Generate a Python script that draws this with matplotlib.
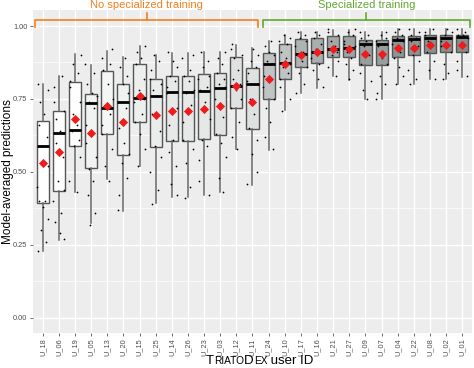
import numpy as np
import matplotlib
matplotlib.use("Agg")
import matplotlib.pyplot as plt
from matplotlib.offsetbox import TextArea, HPacker, AnchoredOffsetbox

plt.rcParams['font.family'] = ['Liberation Sans', 'DejaVu Sans']

# user IDs, ordered as in the figure
users = ["U_18", "U_06", "U_19", "U_05", "U_13", "U_20", "U_15", "U_25", "U_14",
         "U_26", "U_23", "U_03", "U_12", "U_11", "U_24", "U_10", "U_17", "U_16",
         "U_21", "U_27", "U_09", "U_07", "U_04", "U_22", "U_08", "U_02", "U_01"]
n_untrained = 14  # first 14 users: no specialized training

# box statistics
whislo = [0.23, 0.267, 0.433, 0.324, 0.475, 0.367, 0.52, 0.393, 0.415, 0.413, 0.42, 0.433, 0.578, 0.455,
          0.577, 0.712, 0.77, 0.787, 0.829, 0.815, 0.749, 0.749, 0.80, 0.80, 0.82, 0.82, 0.827]
q1 = [0.395, 0.436, 0.589, 0.514, 0.629, 0.558, 0.671, 0.587, 0.605, 0.605, 0.613, 0.627, 0.72, 0.646,
      0.749, 0.82, 0.861, 0.872, 0.895, 0.893, 0.866, 0.866, 0.895, 0.90, 0.909, 0.912, 0.912]
medians = [0.59, 0.633, 0.644, 0.735, 0.72, 0.741, 0.754, 0.76, 0.773, 0.773, 0.778, 0.789, 0.795, 0.80,
           0.87, 0.872, 0.903, 0.91, 0.921, 0.926, 0.938, 0.938, 0.952, 0.955, 0.958, 0.96, 0.964]
q3 = [0.676, 0.71, 0.807, 0.767, 0.847, 0.80, 0.87, 0.818, 0.83, 0.83, 0.834, 0.84, 0.893, 0.855,
      0.906, 0.938, 0.954, 0.958, 0.966, 0.966, 0.952, 0.952, 0.966, 0.966, 0.97, 0.97, 0.97]
whishi = [0.80, 0.83, 0.903, 0.866, 0.915, 0.893, 0.93, 0.90, 0.906, 0.906, 0.91, 0.912, 0.935, 0.924,
          0.95, 0.97, 0.978, 0.98, 0.988, 0.988, 0.98, 0.98, 0.99, 0.99, 0.99, 0.99, 0.99]
means = [0.53, 0.57, 0.68, 0.635, 0.727, 0.672, 0.76, 0.695, 0.71, 0.71, 0.715, 0.726, 0.796, 0.741,
         0.817, 0.87, 0.90, 0.91, 0.921, 0.92, 0.904, 0.904, 0.926, 0.926, 0.935, 0.935, 0.935]

# individual predictions (approximate)
points = [
    [0.23, 0.26, 0.30, 0.34, 0.38, 0.40, 0.40, 0.45, 0.52, 0.59, 0.62, 0.66, 0.70, 0.74, 0.78, 0.80],
    [0.27, 0.29, 0.33, 0.36, 0.40, 0.44, 0.47, 0.55, 0.60, 0.64, 0.68, 0.71, 0.74, 0.79, 0.83],
    [0.43, 0.47, 0.55, 0.59, 0.61, 0.64, 0.66, 0.70, 0.74, 0.79, 0.81, 0.84, 0.87, 0.90],
    [0.32, 0.36, 0.42, 0.47, 0.51, 0.55, 0.60, 0.66, 0.72, 0.74, 0.76, 0.77, 0.80, 0.84, 0.87],
    [0.47, 0.52, 0.58, 0.63, 0.66, 0.70, 0.72, 0.75, 0.80, 0.85, 0.87, 0.89, 0.92],
    [0.37, 0.42, 0.48, 0.53, 0.56, 0.60, 0.65, 0.72, 0.74, 0.77, 0.80, 0.83, 0.86, 0.89],
    [0.52, 0.58, 0.63, 0.67, 0.70, 0.74, 0.75, 0.78, 0.82, 0.87, 0.89, 0.91, 0.93],
    [0.39, 0.44, 0.50, 0.55, 0.59, 0.64, 0.70, 0.76, 0.78, 0.80, 0.82, 0.85, 0.88, 0.90],
    [0.42, 0.46, 0.52, 0.57, 0.61, 0.66, 0.72, 0.77, 0.79, 0.81, 0.83, 0.86, 0.88, 0.91],
    [0.41, 0.45, 0.53, 0.58, 0.61, 0.67, 0.73, 0.77, 0.78, 0.81, 0.83, 0.85, 0.89, 0.90],
    [0.42, 0.47, 0.54, 0.59, 0.61, 0.68, 0.74, 0.78, 0.79, 0.82, 0.83, 0.86, 0.88, 0.91],
    [0.43, 0.48, 0.55, 0.60, 0.63, 0.69, 0.75, 0.79, 0.80, 0.82, 0.84, 0.87, 0.89, 0.91],
    [0.58, 0.62, 0.67, 0.72, 0.75, 0.78, 0.80, 0.82, 0.85, 0.89, 0.90, 0.92, 0.94],
    [0.46, 0.50, 0.56, 0.61, 0.65, 0.70, 0.75, 0.80, 0.81, 0.84, 0.86, 0.88, 0.90, 0.92],
    [0.58, 0.62, 0.67, 0.72, 0.75, 0.79, 0.83, 0.87, 0.88, 0.90, 0.91, 0.93, 0.95],
    [0.71, 0.75, 0.79, 0.82, 0.84, 0.86, 0.87, 0.89, 0.91, 0.94, 0.95, 0.96, 0.97],
    [0.77, 0.80, 0.84, 0.86, 0.88, 0.90, 0.91, 0.93, 0.95, 0.96, 0.97, 0.98],
    [0.79, 0.82, 0.85, 0.87, 0.89, 0.91, 0.92, 0.94, 0.96, 0.97, 0.98],
    [0.83, 0.86, 0.88, 0.90, 0.91, 0.92, 0.93, 0.95, 0.97, 0.98, 0.99],
    [0.82, 0.85, 0.87, 0.89, 0.91, 0.93, 0.94, 0.95, 0.97, 0.98, 0.99],
    [0.75, 0.78, 0.81, 0.84, 0.87, 0.90, 0.93, 0.94, 0.95, 0.96, 0.97, 0.98],
    [0.75, 0.77, 0.80, 0.83, 0.87, 0.89, 0.93, 0.94, 0.95, 0.96, 0.97, 0.98],
    [0.80, 0.83, 0.86, 0.89, 0.91, 0.94, 0.95, 0.96, 0.97, 0.98, 0.99],
    [0.80, 0.82, 0.85, 0.88, 0.90, 0.93, 0.95, 0.96, 0.97, 0.98, 0.99],
    [0.82, 0.85, 0.88, 0.91, 0.93, 0.95, 0.96, 0.97, 0.98, 0.99],
    [0.82, 0.84, 0.87, 0.91, 0.93, 0.95, 0.96, 0.97, 0.98, 0.99],
    [0.83, 0.85, 0.88, 0.91, 0.94, 0.96, 0.97, 0.97, 0.98, 0.99],
]

group_labels = ["No specialized training", "Specialized training"]
group_colors = ["#F2801F", "#62A832"]

fig = plt.figure(figsize=(4.74, 3.68), dpi=100)
ax = fig.add_axes([33 / 474, 35 / 368, 439 / 474, 323 / 368])
ax.set_facecolor("#EDEDED")

x = np.arange(len(users))

# grid like ggplot
for v in [0.125, 0.375, 0.625, 0.875]:
    ax.axhline(v, color="white", lw=0.5, zorder=0)
for v in [0, 0.25, 0.5, 0.75, 1.0]:
    ax.axhline(v, color="white", lw=1.0, zorder=0)
for xi in x:
    ax.axvline(xi, color="white", lw=1.0, zorder=0)

stats = [dict(med=medians[i], q1=q1[i], q3=q3[i], whislo=whislo[i], whishi=whishi[i], fliers=[])
         for i in range(len(users))]
bp = ax.bxp(stats, positions=x, widths=0.75, patch_artist=True, showcaps=False,
            boxprops=dict(edgecolor="#555555", linewidth=1.0),
            whiskerprops=dict(color="#666666", linewidth=1.1),
            medianprops=dict(color="black", linewidth=2.0))

# box fill gets darker with higher median
end = np.array([0.52, 0.55, 0.55])
lo, hi = min(medians), max(medians)
for patch, m in zip(bp["boxes"], medians):
    t = ((m - lo) / (hi - lo)) ** 2.3
    patch.set_facecolor(tuple(1 - t * (1 - end)))
    patch.set_zorder(2)

# jittered points (fixed offset pattern)
offsets = [-0.3, 0.2, -0.1, 0.35, 0.05, -0.25, 0.15, -0.35, 0.3, -0.05, 0.25, -0.2, 0.1, -0.15, 0.32, -0.32]
for i, vals in enumerate(points):
    dx = [offsets[(k + 3 * i) % len(offsets)] for k in range(len(vals))]
    ax.scatter(x[i] + np.array(dx), vals, s=1.6, color="black", zorder=4, linewidths=0)

ax.scatter(x, means, marker="D", s=22, color="#EE1C1C", zorder=5, linewidths=0)

ax.set_xlim(-0.6, len(users) - 0.4)
ax.set_ylim(-0.0514, 1.0548)
ax.set_yticks([0, 0.25, 0.5, 0.75, 1.0])
ax.set_yticklabels(["0.00", "0.25", "0.50", "0.75", "1.00"])
ax.set_xticks(x)
ax.set_xticklabels(users, rotation=90)
ax.tick_params(axis="both", labelsize=5.3, labelcolor="#4D4D4D", color="#333333",
               length=2.5, width=0.5, pad=1.5)
for s in ax.spines.values():
    s.set_visible(False)

ax.set_ylabel("Model-averaged predictions", fontsize=8.5, va="center")
ax.yaxis.set_label_coords(-0.058, 0.5)

# group brackets above the boxes
groups = [(-0.45, n_untrained - 0.65), (n_untrained - 0.35, len(users) - 0.55)]
for (a, b), lab, col in zip(groups, group_labels, group_colors):
    c = (a + b) / 2
    ax.plot([a, a, b, b], [0.998, 1.0205, 1.0205, 0.998], color=col, lw=1.2, clip_on=False, zorder=6)
    ax.plot([c, c], [1.0205, 1.043], color=col, lw=1.2, clip_on=False, zorder=6)
    ax.text(c, 1.073, lab, color=col, fontsize=8, ha="center", va="center", clip_on=False)

# x label with small caps for TriatoDex
parts = [("T", 9.5), ("RIATO", 7.3), ("D", 9.5), ("EX", 7.3), (" user ID", 9.5)]
areas = [TextArea(s, textprops=dict(fontsize=sz, color="black")) for s, sz in parts]
pack = HPacker(children=areas, align="baseline", pad=0, sep=0)
ab = AnchoredOffsetbox(loc="center", child=pack, frameon=False, pad=0, borderpad=0,
                       bbox_to_anchor=(260 / 474, 1 - 361 / 368), bbox_transform=fig.transFigure)
fig.add_artist(ab)

fig.savefig("out.png", dpi=100)
